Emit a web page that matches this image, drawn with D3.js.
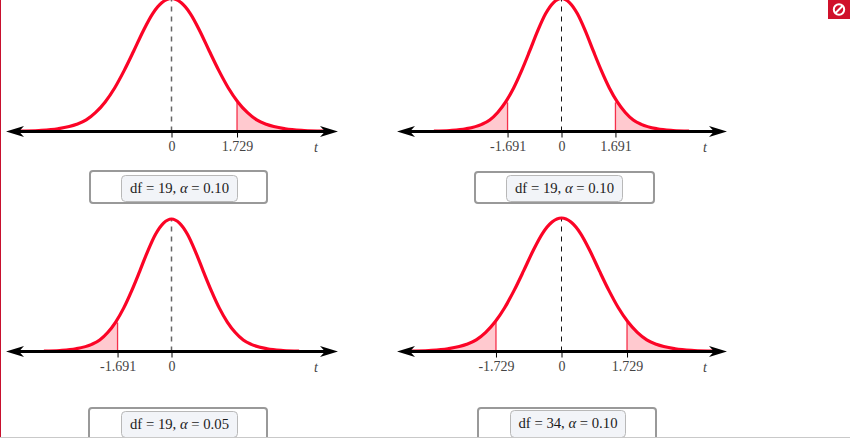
<!DOCTYPE html>
<html>
<head>
<meta charset="utf-8">
<script src="https://cdn.jsdelivr.net/npm/d3@7"></script>
<style>
  html, body { margin: 0; padding: 0; background: #fff; overflow: hidden; }
  svg { display: block; }
  text { font-family: "Liberation Serif", serif; }
</style>
</head>
<body>
<script>
// values
const tValues = [-4, -3.5, -3, -2.5, -2.25, -2, -1.75, -1.5, -1.25, -1, -0.75, -0.5, -0.25, 0,
  0.25, 0.5, 0.75, 1, 1.25, 1.5, 1.75, 2, 2.25, 2.5, 3, 3.5, 4]
const density = [0.001, 0.003, 0.008, 0.021, 0.034, 0.056, 0.087, 0.128, 0.179, 0.236, 0.295, 0.346, 0.379, 0.391,
  0.379, 0.346, 0.295, 0.236, 0.179, 0.128, 0.087, 0.056, 0.034, 0.021, 0.008, 0.003, 0.001]

const panelTicks = [[0, 1.729], [-1.691, 0, 1.691], [-1.691, 0], [-1.729, 0, 1.729]]
const panelTails = [[1.729], [-1.691, 1.691], [-1.691], [-1.729, 1.729]]
const panelLabels = ['19|0.10', '19|0.10', '19|0.05', '34|0.10']

// layout only
const w = 850
const h = 438
const layout = [
  { left: 6, right: 338, unit: 37.9, centre: 171.5, base: 131.5, top: -1.5, box: [90, 171, 177, 32], btn: [121, 175, 116, 26], dash: '#666', dashW: 1.5 },
  { left: 397, right: 727, unit: 31.9, centre: 561.5, base: 131.5, top: -1.5, box: [475, 172, 179, 31], btn: [506, 175, 116, 26], dash: '#111', dashW: 1 },
  { left: 6, right: 338, unit: 31.9, centre: 171.5, base: 351.5, top: 219, box: [89, 408, 178, 40], btn: [121, 411, 116, 26], dash: '#666', dashW: 1.5 },
  { left: 397, right: 727, unit: 37.9, centre: 561.5, base: 351.5, top: 218, box: [478, 408, 178, 40], btn: [510, 410, 115, 27], dash: '#111', dashW: 1 }
]

const svg = d3.select('body').append('svg')
  .attr('width', w)
  .attr('height', h)

const points = tValues.map((t, i) => ({ t: t, d: density[i] }))

layout.forEach((p, i) => {
  const g = svg.append('g')

  const x = d3.scaleLinear()
    .domain([(p.left - p.centre) / p.unit, (p.right - p.centre) / p.unit])
    .range([p.left, p.right])
  const y = d3.scaleLinear()
    .domain([0, 0.391])
    .range([p.base, p.top])

  const line = d3.line().x(d => x(d.t)).y(d => y(d.d)).curve(d3.curveMonotoneX)
  const area = d3.area().x(d => x(d.t)).y0(y(0)).y1(d => y(d.d)).curve(d3.curveMonotoneX)

  // shaded tails
  panelTails[i].forEach((c, j) => {
    const id = 'tail' + i + '-' + j
    const x0 = c > 0 ? x(c) : p.left
    const x1 = c > 0 ? p.right : x(c)
    g.append('clipPath').attr('id', id)
      .append('rect')
      .attr('x', x0).attr('y', p.top).attr('width', x1 - x0).attr('height', p.base - p.top)
    g.append('path')
      .datum(points)
      .attr('d', area)
      .attr('fill', '#ffc9cf')
      .attr('clip-path', 'url(#' + id + ')')
    g.append('line')
      .attr('x1', x(c)).attr('x2', x(c))
      .attr('y1', y(0))
      .attr('y2', y(d3.least(points, d => Math.abs(d.t - c)).d) + 0.5)
      .attr('stroke', '#f5304a')
      .attr('stroke-width', 1.3)
  })

  // centre line
  g.append('line')
    .attr('x1', x(0)).attr('x2', x(0))
    .attr('y1', y(0)).attr('y2', p.top)
    .attr('stroke', p.dash)
    .attr('stroke-width', p.dashW)
    .attr('stroke-dasharray', '5,5')

  // density curve
  g.append('path')
    .datum(points)
    .attr('d', line)
    .attr('fill', 'none')
    .attr('stroke', '#fb0426')
    .attr('stroke-width', 3.2)

  // number line with arrows
  g.append('line')
    .attr('x1', p.left + 8).attr('x2', p.right - 8)
    .attr('y1', p.base).attr('y2', p.base)
    .attr('stroke', '#000')
    .attr('stroke-width', 3)
  const arrow = (tip, dir) => {
    const pts = [[tip, p.base], [tip + dir * 18, p.base - 5.5], [tip + dir * 13, p.base], [tip + dir * 18, p.base + 5.5]]
    g.append('path').attr('d', d3.line()(pts) + 'Z').attr('fill', '#000')
  }
  arrow(p.left, 1)
  arrow(p.right, -1)

  const axis = d3.axisBottom(x)
    .tickValues(panelTicks[i])
    .tickSize(6)
    .tickPadding(4)
    .tickFormat(d => d === 0 ? '0' : d3.format('.3f')(d).replace('\u2212', '-'))
  const ax = g.append('g')
    .attr('transform', 'translate(0,' + p.base + ')')
    .call(axis)
  ax.select('.domain').remove()
  ax.selectAll('.tick line').attr('stroke', '#000').attr('stroke-width', 1)
  ax.selectAll('.tick text')
    .attr('fill', '#444')
    .style('font-family', '"Liberation Serif", serif')
    .style('font-size', '14px')

  g.append('text')
    .attr('x', p.right - 22)
    .attr('y', p.base + 20)
    .attr('text-anchor', 'middle')
    .attr('fill', '#444')
    .style('font-size', '14px')
    .style('font-style', 'italic')
    .text('t')

  // answer box and button
  g.append('rect')
    .attr('x', p.box[0]).attr('y', p.box[1]).attr('width', p.box[2]).attr('height', p.box[3])
    .attr('rx', 3)
    .attr('fill', '#fff').attr('stroke', '#999').attr('stroke-width', 2)
  g.append('rect')
    .attr('x', p.btn[0] + 0.5).attr('y', p.btn[1] + 0.5).attr('width', p.btn[2]).attr('height', p.btn[3])
    .attr('rx', 4)
    .attr('fill', '#f2f4f8').attr('stroke', '#b8b8b8').attr('stroke-width', 1)

  const parts = panelLabels[i].split('|')
  const label = g.append('text')
    .attr('x', p.btn[0] + p.btn[2] / 2 + 0.5)
    .attr('y', p.btn[1] + 18)
    .attr('text-anchor', 'middle')
    .attr('fill', '#1a1a1a')
    .style('font-size', '14.7px')
  label.append('tspan').text('df = ' + parts[0] + ', ')
  label.append('tspan').style('font-style', 'italic').text('\u03b1')
  label.append('tspan').text(' = ' + parts[1])
})

// page edges
svg.append('line').attr('x1', 0.5).attr('x2', 0.5).attr('y1', 0).attr('y2', h).attr('stroke', '#c8102e').attr('stroke-width', 1)
svg.append('line').attr('x1', 0).attr('x2', w).attr('y1', 437.5).attr('y2', 437.5).attr('stroke', '#c9c9c9').attr('stroke-width', 1)

// corner badge
svg.append('rect').attr('x', 828).attr('y', 0).attr('width', 22).attr('height', 19).attr('fill', '#d0112b')
svg.append('circle').attr('cx', 839).attr('cy', 9.5).attr('r', 5.2).attr('fill', 'none').attr('stroke', '#fff').attr('stroke-width', 2)
svg.append('line').attr('x1', 835.5).attr('y1', 13).attr('x2', 842.5).attr('y2', 6).attr('stroke', '#fff').attr('stroke-width', 2)
</script>
</body>
</html>
